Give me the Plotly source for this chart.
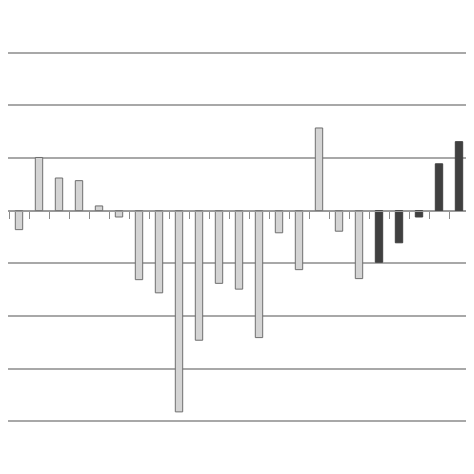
import plotly.graph_objects as go

# values (one unit = one gridline step)
light_pos = list(range(0, 19))
light_vals = [-0.07, -0.36, 1.01, 0.62, 0.57, 0.09, -0.12, -1.31, -1.56, -3.82,
              -2.46, -1.38, -1.49, -2.41, -0.42, -1.12, 1.57, -0.39, -1.29]
dark_pos = list(range(19, 24))
dark_vals = [-0.98, -0.61, -0.12, 0.89, 1.31]
tick_pos = [k + 0.5 for k in range(-1, 24)]

# page body has an 8px margin, so the figure is 458px and the ranges are trimmed to match
y_lo, y_hi = -4.848, 3.848

fig = go.Figure()
fig.add_trace(go.Bar(x=light_pos, y=light_vals, width=0.37,
                     marker=dict(color="#d4d4d4", line=dict(color="#6e6e6e", width=1))))
fig.add_trace(go.Bar(x=dark_pos, y=dark_vals, width=0.37,
                     marker=dict(color="#404040", line=dict(color="#404040", width=1))))

fig.update_layout(
    width=458, height=458,
    margin=dict(l=0, r=0, t=0, b=0),
    paper_bgcolor="white", plot_bgcolor="white",
    showlegend=False, barmode="overlay",
    xaxis=dict(range=[0.45, 23.35], anchor="free", position=-y_lo / (y_hi - y_lo),
               showgrid=False, zeroline=False, showline=True, linecolor="#9a9a9a",
               tickvals=tick_pos, ticks="outside", ticklen=7, tickcolor="#8a8a8a",
               showticklabels=False),
    yaxis=dict(range=[y_lo, y_hi], dtick=1, showgrid=True, gridcolor="#a8a8a8", gridwidth=1.5,
               zeroline=True, zerolinecolor="#9a9a9a", zerolinewidth=1.5,
               showticklabels=False, ticks=""),
)

fig.write_html("out.html")
